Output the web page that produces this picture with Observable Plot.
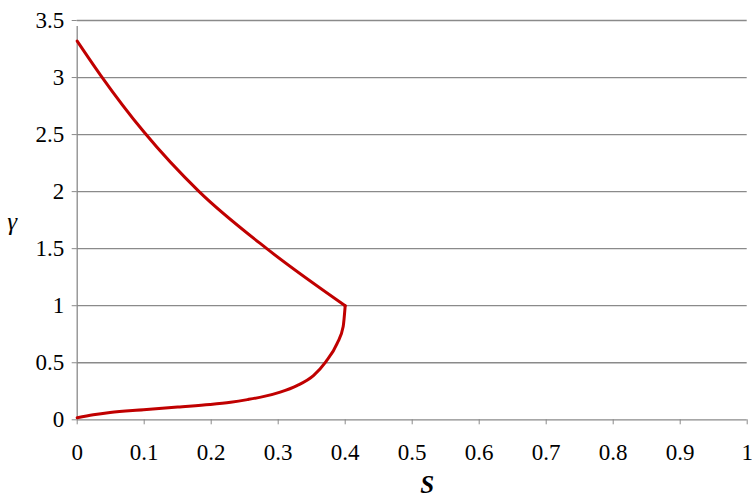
<!DOCTYPE html>
<html>
<head>
<meta charset="utf-8">
<script src="https://cdn.jsdelivr.net/npm/d3@7"></script>
<script src="https://cdn.jsdelivr.net/npm/@observablehq/plot@0.6"></script>
<style>
  html, body { margin: 0; padding: 0; background: #fff; }
  svg, svg text { font-family: "Liberation Serif", serif !important; }
</style>
</head>
<body>
<div id="chart"></div>
<script>
const xTicks = [0, 0.1, 0.2, 0.3, 0.4, 0.5, 0.6, 0.7, 0.8, 0.9, 1];
const yTicks = [0, 0.5, 1, 1.5, 2, 2.5, 3, 3.5];

const upperS = [0, 0.035, 0.1, 0.182, 0.283, 0.4];
const upperG = [3.32, 3.02, 2.52, 2.0, 1.5, 1.0];

const lowerS = [0, 0.024, 0.049, 0.099, 0.15, 0.198, 0.229, 0.254, 0.279, 0.303, 0.328, 0.353, 0.371, 0.388, 0.397, 0.4];
const lowerG = [0.018, 0.044, 0.064, 0.088, 0.112, 0.134, 0.154, 0.177, 0.205, 0.243, 0.30, 0.39, 0.508, 0.67, 0.817, 1.0];

const xLabel = "S";
const yLabel = "γ";

const upper = upperS.map((s, i) => ({s, g: upperG[i]}));
const lower = lowerS.map((s, i) => ({s, g: lowerG[i]}));

const grey = "#8a8a8a";
const red = "#c00000";
const font = "Liberation Serif";

const chart = Plot.plot({
  width: 752,
  height: 500,
  marginLeft: 76.7,
  marginRight: 5.3,
  marginTop: 20,
  marginBottom: 80.7,
  style: {fontFamily: font, background: "#fff", color: "#000"},
  x: {domain: [0, 1]},
  y: {domain: [0, 3.5]},
  marks: [
    Plot.gridY(yTicks, {stroke: grey, strokeOpacity: 1, strokeWidth: 1.3}),
    Plot.ruleX([0], {stroke: grey, strokeWidth: 1.3, y1: 0, y2: 3.5, insetBottom: -6}),
    Plot.axisY({ticks: yTicks, tickSize: 5, tickPadding: 8, fontSize: 23, fontFamily: font, stroke: grey, fill: "#000", label: null, tickFormat: d3.format("~g")}),
    Plot.axisX({ticks: xTicks, tickSize: 5, tickPadding: 19, fontSize: 23, fontFamily: font, stroke: grey, fill: "#000", label: null, tickFormat: d3.format("~g")}),
    Plot.line(upper, {x: "s", y: "g", stroke: red, strokeWidth: 3, curve: "monotone-x"}),
    Plot.line(lower, {x: "s", y: "g", stroke: red, strokeWidth: 3, curve: "monotone-x"}),
    Plot.text([xLabel], {text: d => d, frameAnchor: "bottom", dx: 15, dy: 73, lineAnchor: "bottom", fontSize: 25, fontStyle: "italic", fontWeight: "bold", fontFamily: font, fill: "#000"}),
    Plot.text([yLabel], {text: d => d, frameAnchor: "left", dx: -70, dy: 2, fontSize: 25, fontStyle: "italic", fontFamily: font, fill: "#000"})
  ]
});
document.getElementById("chart").appendChild(chart);
</script>
</body>
</html>
